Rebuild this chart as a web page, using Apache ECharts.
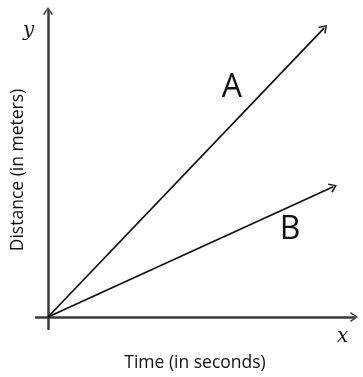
<!DOCTYPE html>
<html>
<head>
<meta charset="utf-8">
<script src="https://cdn.jsdelivr.net/npm/echarts@6/dist/echarts.min.js"></script>
<style>html,body{margin:0;padding:0;background:#fff;}#c{width:363px;height:377px;}</style>
</head>
<body>
<div id="c"></div>
<script>
// Data (axis units)
const lineA = [[0, 0], [9.21, 9.64]];
const lineB = [[0, 0], [9.51, 4.34]];
const labelA = [6.13, 7.65];
const labelB = [8.07, 2.92];
const xName = 'Time (in seconds)';
const yName = 'Distance (in meters)';

const chevron = 'path://M0,7.2 L5,0 L10,7.2 L8.7,8 L5,2.3 L1.3,8 Z';
const axisCol = '#3a3a3a';

function lineSeries(name, pts, lbl, lblPos) {
  return {
    type: 'line', name: name, data: pts, showSymbol: false, silent: true,
    lineStyle: { opacity: 0 },
    markLine: {
      silent: true, animation: false,
      symbol: ['none', chevron], symbolSize: [10, 8],
      label: { show: false },
      lineStyle: { color: '#111', width: 1.7, type: 'solid' },
      data: [[{ coord: pts[0] }, { coord: pts[1] }]]
    },
    markPoint: {
      silent: true, animation: false, symbol: 'circle', symbolSize: 0,
      label: { show: true, formatter: lbl, position: 'inside', fontFamily: 'Open Sans', fontSize: 32, color: '#111' },
      data: [{ coord: lblPos }]
    }
  };
}

const chart = echarts.init(document.getElementById('c'));
chart.setOption({
  animation: false,
  backgroundColor: '#fff',
  grid: { left: 36, top: 11, width: 318, height: 318, containLabel: false, outerBoundsMode: 'none' },
  xAxis: {
    type: 'value', min: -0.4, max: 10.2,
    axisLine: { onZero: true, lineStyle: { color: axisCol, width: 2.5 }, symbol: ['none', chevron], symbolSize: [10, 8] },
    axisTick: { show: false }, axisLabel: { show: false }, splitLine: { show: false },
    name: xName, nameLocation: 'middle', nameGap: 25,
    nameTextStyle: { fontFamily: 'Open Sans', fontSize: 17.5, color: '#111' }
  },
  yAxis: {
    type: 'value', min: -0.4, max: 10.2,
    axisLine: { onZero: true, lineStyle: { color: axisCol, width: 2.5 }, symbol: ['none', chevron], symbolSize: [10, 8] },
    axisTick: { show: false }, axisLabel: { show: false }, splitLine: { show: false },
    name: yName, nameLocation: 'middle', nameGap: 9,
    nameTextStyle: { fontFamily: 'Open Sans', fontSize: 17.5, color: '#111' }
  },
  graphic: [
    { type: 'text', left: 23, top: 21, style: { text: 'y', font: 'italic 20px "DejaVu Serif"', fill: '#1a1a1a' } },
    { type: 'text', left: 337, top: 327, style: { text: 'x', font: 'italic 20px "DejaVu Serif"', fill: '#1a1a1a' } }
  ],
  series: [
    lineSeries('A', lineA, 'A', labelA),
    lineSeries('B', lineB, 'B', labelB)
  ]
});
</script>
</body>
</html>
